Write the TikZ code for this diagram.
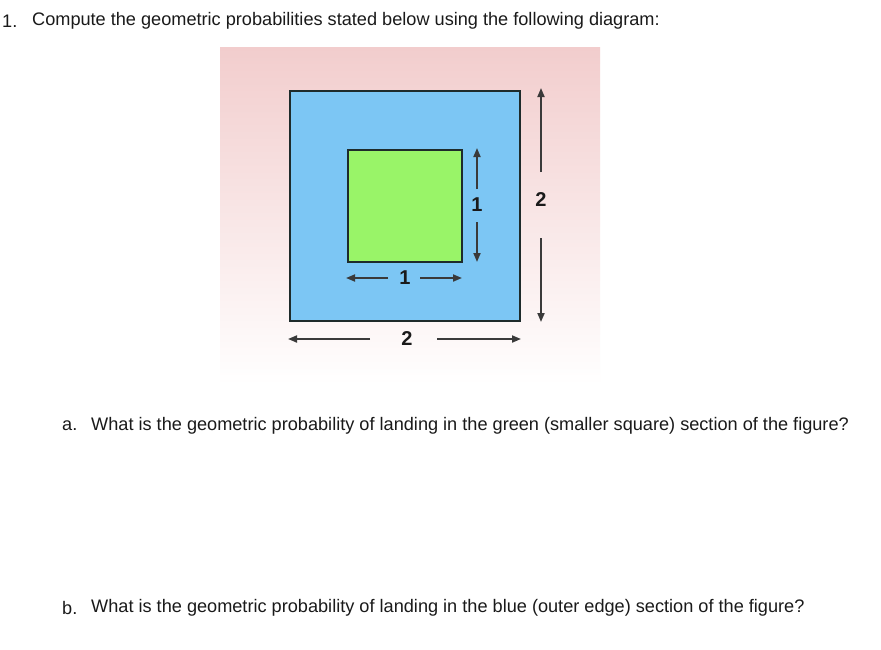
\documentclass[tikz,border=0pt]{standalone}
\usepackage{fontspec}
\setmainfont{Liberation Sans}
\usetikzlibrary{arrows.meta}
\definecolor{outerblue}{HTML}{7CC6F4}
\definecolor{innergreen}{HTML}{99F468}
\definecolor{edge}{HTML}{1E2B2B}
\definecolor{bgpink}{HTML}{F2CDCD}
\definecolor{txt}{HTML}{1A1A1A}
\definecolor{arrowgray}{HTML}{3A3A3A}
\tikzset{
  body/.style={font=\fontsize{18.15}{20}\selectfont, text=txt, anchor=west, inner sep=0pt},
  dimlabel/.style={font=\bfseries\fontsize{20}{22}\selectfont, text=txt, inner sep=0pt},
  dimarrow/.style={-{Triangle[length=9pt,width=7pt]}, line width=1.8pt, draw=arrowgray},
  sq/.style={draw=edge, line width=1.8pt},
}
\begin{document}
\begin{tikzpicture}[x=1pt,y=-1pt]
\useasboundingbox[fill=white] (0,0) rectangle (881,649);
% background panel
\shade[top color=bgpink, bottom color=white] (220,47) rectangle (600,385);
% squares
\node[sq, fill=outerblue, minimum width=230pt, minimum height=230pt, inner sep=0pt, anchor=north west] (outer) at (289,90) {};
\node[sq, fill=innergreen, minimum width=114pt, minimum height=112pt, inner sep=0pt, anchor=north west] (inner) at (347,149) {};
% inner horizontal
\node[dimlabel] (h1) at (405,278) {1};
\coordinate (h1l) at (346,278);
\coordinate (h1r) at (462,278);
\draw[dimarrow] (388,278) -- (h1l);
\draw[dimarrow] (420,278) -- (h1r);
% inner vertical
\node[dimlabel] (v1) at (477,205) {1};
\coordinate (v1t) at (477,148);
\coordinate (v1b) at (477,262);
\draw[dimarrow] (477,189) -- (v1t);
\draw[dimarrow] (477,222) -- (v1b);
% outer vertical
\node[dimlabel] (v2) at (541,200) {2};
\coordinate (v2t) at (541,88);
\coordinate (v2b) at (541,322);
\draw[dimarrow] (541,172) -- (v2t);
\draw[dimarrow] (541,238) -- (v2b);
% outer horizontal
\node[dimlabel] (h2) at (407,339) {2};
\coordinate (h2l) at (288,339);
\coordinate (h2r) at (521,339);
\draw[dimarrow] (370,339) -- (h2l);
\draw[dimarrow] (437,339) -- (h2r);
% texts
\node[body] (n1) at (2,21) {1.};
\node[body] (q1) at (32,21) {Compute the geometric probabilities stated below using the following diagram:};
\node[body] (na) at (62,426) {a.};
\node[body] (qa) at (91,426) {What is the geometric probability of landing in the green (smaller square) section of the figure?};
\node[body] (nb) at (62,608) {b.};
\node[body] (qb) at (91,608) {What is the geometric probability of landing in the blue (outer edge) section of the figure?};
\end{tikzpicture}
\end{document}
